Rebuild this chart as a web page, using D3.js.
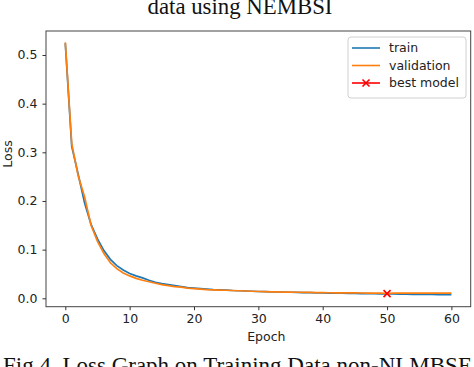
<!DOCTYPE html>
<html><head><meta charset="utf-8">
<script src="https://cdn.jsdelivr.net/npm/d3@7"></script>
<style>html,body{margin:0;padding:0;background:#fff;}svg{display:block;}</style>
</head><body>
<svg id="c" width="474" height="367"></svg>
<script>
const epochs = d3.range(0, 61);
const trainLoss = [0.524,0.312,0.255,0.196,0.152,0.122,0.098,0.080,0.067,0.058,
  0.051,0.046,0.042,0.037,0.033,0.030,0.028,0.026,0.024,0.022,
  0.021,0.020,0.019,0.018,0.0175,0.017,0.016,0.0155,0.015,0.0145,
  0.014,0.0137,0.0133,0.013,0.0127,0.0124,0.0121,0.0118,0.0116,0.0113,
  0.011,0.0108,0.0106,0.0104,0.0102,0.010,0.0098,0.0096,0.0094,0.0092,
  0.009,0.0088,0.0086,0.0084,0.0082,0.008,0.0079,0.0078,0.0077,0.0076,0.0075];
const valLoss = [0.526,0.318,0.252,0.208,0.150,0.117,0.092,0.073,0.061,0.052,
  0.046,0.041,0.037,0.034,0.031,0.028,0.026,0.024,0.023,0.021,
  0.020,0.019,0.018,0.0175,0.017,0.0165,0.016,0.0155,0.015,0.0145,
  0.014,0.0137,0.0134,0.0131,0.0128,0.0126,0.0124,0.0122,0.012,0.0118,
  0.0116,0.0114,0.0113,0.0112,0.0111,0.011,0.0109,0.0108,0.0107,0.0106,
  0.0095,0.0105,0.0105,0.0106,0.0105,0.0105,0.0106,0.0105,0.0105,0.0106,0.0105];
const bestEpoch = 50;
const xTicks = [0,10,20,30,40,50,60];
const yTicks = [0.0,0.1,0.2,0.3,0.4,0.5];
const seriesNames = ["train","validation","best model"];
const titleText = "data using NEMBSI";
const captionText = "Fig 4. Loss Graph on Training Data non-NLMBSE";

const svg = d3.select("#c");
const L = 46, R = 470.7, T = 31, B = 306.7;
const x = d3.scaleLinear().domain([-3, 63]).range([L, R]);
const y = d3.scaleLinear().domain([-0.01726, 0.5493]).range([B, T]);
const font = "DejaVu Sans, sans-serif";
const fs = 12.5;
const tc = "#222";

// title and caption (cut by the image edges, as in the reference)
svg.append("text").attr("x", 240).attr("y", 14).attr("text-anchor","middle")
  .attr("font-family","Liberation Serif, serif").attr("font-size",22.8).attr("fill","#111").text(titleText);
svg.append("text").attr("x", 3).attr("y", 373)
  .attr("font-family","Liberation Serif, serif").attr("font-size",23).attr("fill","#111").text(captionText);

// lines
const line = (vals) => d3.line().x((d,i)=>x(epochs[i])).y(d=>y(d))(vals);
svg.append("path").attr("d", line(trainLoss)).attr("fill","none").attr("stroke","#1f77b4").attr("stroke-width",1.7);
svg.append("path").attr("d", line(valLoss)).attr("fill","none").attr("stroke","#ff7f0e").attr("stroke-width",1.7);

// best marker
const drawX = (g, cx, cy, s) => {
  g.append("path").attr("d", `M${cx-s},${cy-s}L${cx+s},${cy+s}M${cx-s},${cy+s}L${cx+s},${cy-s}`)
   .attr("stroke","#ff0000").attr("stroke-width",1.6).attr("fill","none");
};
drawX(svg, x(bestEpoch), y(valLoss[bestEpoch]), 3.5);

// frame
svg.append("rect").attr("x",L).attr("y",T).attr("width",R-L).attr("height",B-T)
  .attr("fill","none").attr("stroke","#444").attr("stroke-width",1);

// axes
const xa = svg.append("g").attr("transform",`translate(0,${B})`)
  .call(d3.axisBottom(x).tickValues(xTicks).tickFormat(d3.format("d")).tickSize(3.5).tickSizeOuter(0));
const ya = svg.append("g").attr("transform",`translate(${L},0)`)
  .call(d3.axisLeft(y).tickValues(yTicks).tickFormat(d3.format(".1f")).tickSize(3.5).tickSizeOuter(0));
[xa, ya].forEach(a => {
  a.select(".domain").remove();
  a.selectAll("line").attr("stroke","#333");
  a.selectAll("text").attr("font-family",font).attr("font-size",fs).attr("fill",tc);
});
xa.selectAll("text").attr("dy","0.71em").attr("y",7.5);
ya.selectAll("text").attr("x",-8.5);

svg.append("text").attr("x",(L+R)/2+8).attr("y",341).attr("text-anchor","middle")
  .attr("font-family",font).attr("font-size",fs).attr("fill",tc).text("Epoch");
svg.append("text").attr("transform","translate(12,154) rotate(-90)").attr("text-anchor","middle")
  .attr("font-family",font).attr("font-size",fs).attr("fill",tc).text("Loss");

// legend
const lg = svg.append("g");
lg.append("rect").attr("x",348).attr("y",37).attr("width",118).attr("height",61).attr("rx",3)
  .attr("fill","#fff").attr("stroke","#d0d0d0").attr("stroke-width",1);
const colors = ["#1f77b4","#ff7f0e","#ff0000"];
seriesNames.forEach((n,i) => {
  const yy = 48 + i*17.5;
  lg.append("line").attr("x1",352).attr("x2",380).attr("y1",yy).attr("y2",yy)
    .attr("stroke",colors[i]).attr("stroke-width",1.6);
  if (i===2) drawX(lg, 366, yy, 3.5);
  lg.append("text").attr("x",389).attr("y",yy).attr("dy","0.35em")
    .attr("font-family",font).attr("font-size",fs).attr("fill",tc).text(n);
});
</script>
</body></html>
